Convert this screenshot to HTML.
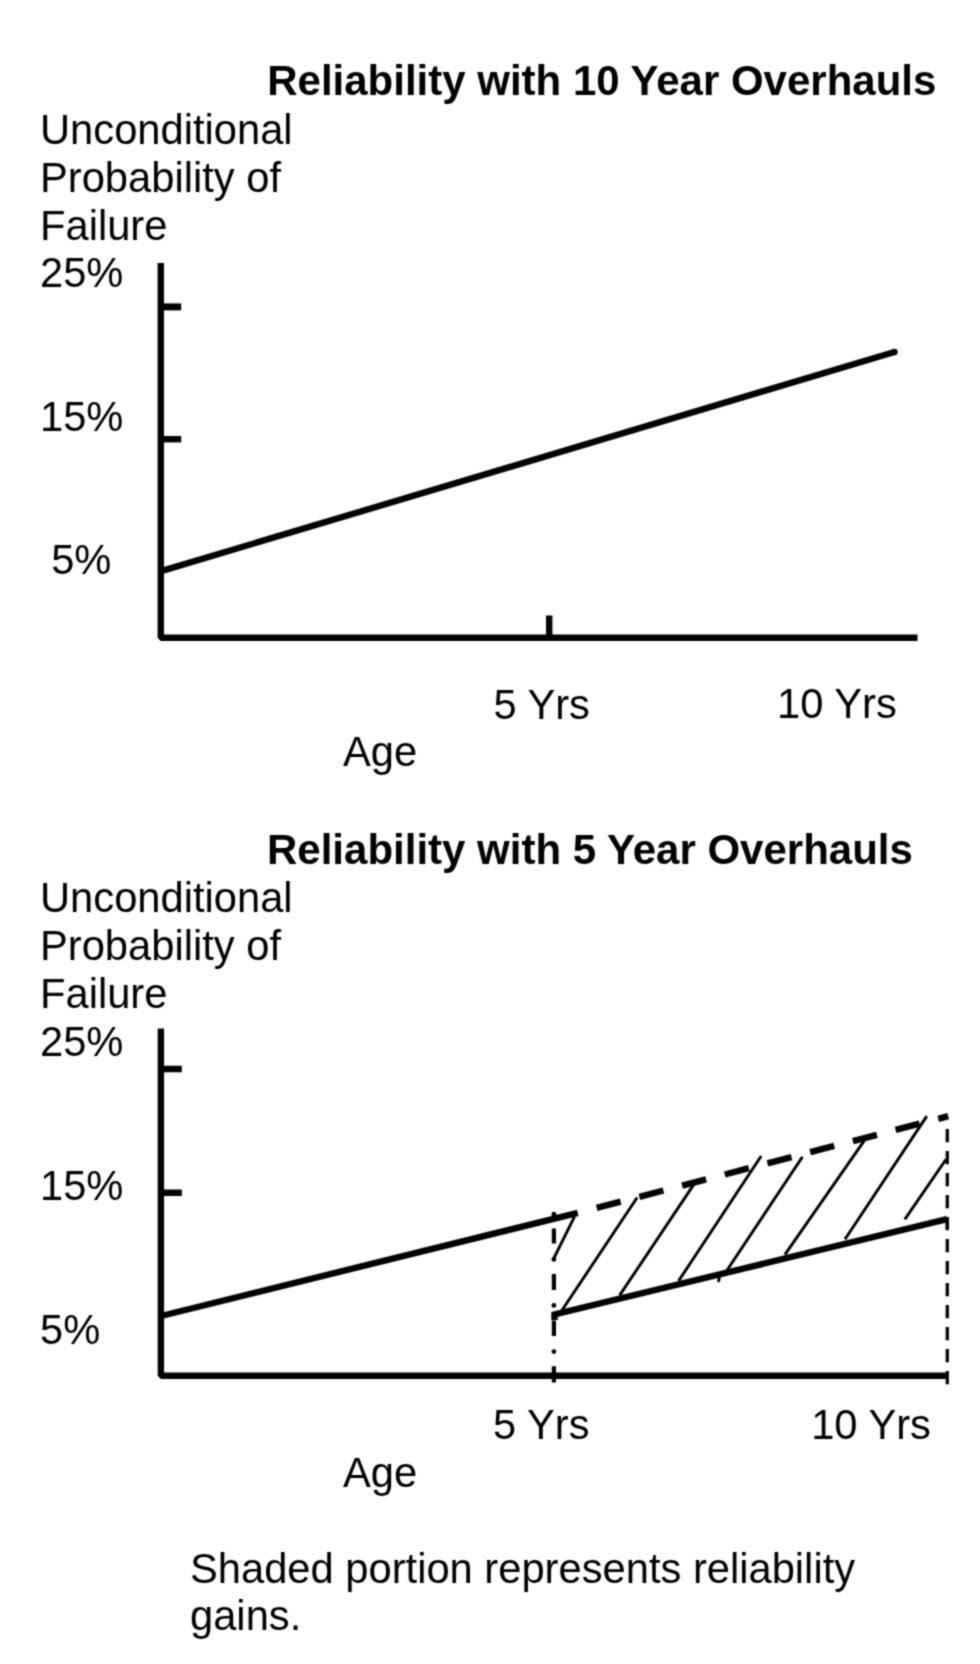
<!DOCTYPE html>
<html><head><meta charset="utf-8"><style>
html,body{margin:0;padding:0;background:#fff;}
svg{display:block;}
text{font-family:"Liberation Sans",Arial,Helvetica,sans-serif;font-size:41.7px;fill:#000;}
.b{font-weight:bold;font-size:42px;}
</style></head><body>
<svg width="980" height="1664" viewBox="0 0 980 1664">
<defs><filter id="soft" color-interpolation-filters="sRGB" x="0" y="0" width="100%" height="100%" filterUnits="userSpaceOnUse"><feConvolveMatrix order="3" kernelMatrix="0.04387 0.12171 0.04387 0.12171 0.33767 0.12171 0.04387 0.12171 0.04387" divisor="1" edgeMode="duplicate" preserveAlpha="false"/></filter></defs>
<rect width="980" height="1664" fill="#fff"/>
<g filter="url(#soft)">
<!-- chart 1 -->
<text class="b" x="267.2" y="94.5">Reliability with 10 Year Overhauls</text>
<text x="40" y="143.5">Unconditional</text>
<text x="40" y="191.5">Probability of</text>
<text x="40" y="239.5">Failure</text>
<text x="40" y="286.8">25%</text>
<text x="40" y="430.8">15%</text>
<text x="51.2" y="574">5%</text>
<text x="493.4" y="718.6">5 Yrs</text>
<text x="777" y="718">10 Yrs</text>
<text x="343" y="766.3">Age</text>
<g stroke="#000" fill="none" stroke-width="6.4">
<path d="M160.8,263V637.8H917.5" stroke-linejoin="bevel"/>
<path d="M160.8,306.9H181.2" stroke-width="7"/><path d="M160.8,439.2H181.2"/>
<path d="M549.2,615.5V637"/>
<path d="M162,570.9L894.5,352"/><circle cx="894.5" cy="352" r="3.2" fill="#000" stroke="none"/>
</g>
<!-- chart 2 -->
<text class="b" x="267" y="863.7">Reliability with 5 Year Overhauls</text>
<text x="40" y="911.5">Unconditional</text>
<text x="40" y="959.5">Probability of</text>
<text x="40" y="1007.5">Failure</text>
<text x="40" y="1055.5">25%</text>
<text x="40" y="1200">15%</text>
<text x="40" y="1343.9">5%</text>
<text x="493" y="1439">5 Yrs</text>
<text x="811.2" y="1439.3">10 Yrs</text>
<text x="343" y="1486.9">Age</text>
<text x="190" y="1582.7">Shaded portion represents reliability</text>
<text x="190" y="1630.4">gains.</text>
<g stroke="#000" fill="none" stroke-width="6.4">
<path d="M160.9,1028.5V1375.8H947.5" stroke-linejoin="bevel"/>
<path d="M160.9,1069H181.8M160.9,1192.8H181.8"/>
<path d="M161,1316L577.8,1212.8"/>
<path d="M596.7,1207.9L620.7,1201.7 M639.4,1196.8L663.4,1190.5 M682.1,1185.6L706.1,1179.4 M724.8,1174.5L748.8,1168.2 M767.5,1163.3L791.5,1157.1 M810.2,1152.2L834.2,1145.9 M852.9,1141.1L876.9,1134.8 M895.6,1129.9L919.6,1123.6 M938.3,1118.8L948.2,1116.2"/>
<path d="M554.5,1320V1314.5L947,1219.1"/>
</g>
<g stroke="#000" fill="none" stroke-width="3.3">
<path d="M947.3,1129.0V1142.3 M947.3,1151.0V1164.3 M947.3,1173.0V1186.3 M947.3,1195.0V1208.3 M947.3,1217.0V1230.3 M947.3,1239.0V1252.3 M947.3,1261.0V1274.3 M947.3,1283.0V1296.3 M947.3,1305.0V1318.3 M947.3,1327.0V1340.3 M947.3,1349.0V1362.3 M947.3,1371.0V1384.3"/>
<path d="M947.3,1217V1229"/>
</g>
<g stroke="#000" fill="none" stroke-width="4.2">
<path d="M553.9,1228.4V1243.5 M553.9,1274V1290 M553.9,1320.6V1336 M553.9,1366.3V1382.6"/>
</g>
<g fill="#000">
<circle cx="553.9" cy="1214.2" r="2.4"/><circle cx="553.9" cy="1259.4" r="2.4"/><circle cx="553.9" cy="1305.4" r="2.4"/><circle cx="553.9" cy="1351.6" r="2.4"/>
</g>
<g stroke="#000" fill="none" stroke-width="2.9">
<path d="M574.5,1216.6L553.3,1259.4 M561.5,1311L637.2,1197.5 M619.6,1295.4L695.4,1182.1 M678.6,1280.9L761.2,1156 M726.7,1270.8L802.5,1156.7 M784.9,1254.7L864.3,1140.7 M845,1239.3L926.8,1116.1 M904.8,1219.4L946.1,1159.3"/>
<path d="M719.5,1276L718.5,1282"/>
</g>
</g>
</svg>
</body></html>
